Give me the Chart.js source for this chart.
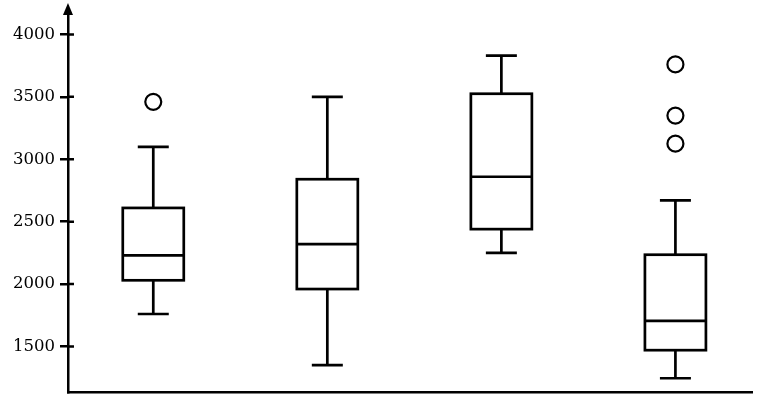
<!DOCTYPE html>
<html>
<head>
<meta charset="utf-8">
<script src="https://cdn.jsdelivr.net/npm/chart.js@4/dist/chart.umd.min.js"></script>
<style>
  body { margin: 0; background: #fff; }
  canvas { display: block; }
</style>
</head>
<body>
<canvas id="box-chart" width="768" height="404"></canvas>
<script>
// box plot values, one entry per group (left to right)
const positions = [1, 2, 3, 4];
const whiskerLow = [1760, 1350, 2250, 1245];
const q1 = [2030, 1960, 2440, 1470];
const median = [2230, 2320, 2860, 1705];
const q3 = [2610, 2840, 3525, 2235];
const whiskerHigh = [3100, 3500, 3830, 2670];
const outliers = [[3460], [], [], [3760, 3350, 3125]];
const yTicks = [1500, 2000, 2500, 3000, 3500, 4000];

const boxChart = document.getElementById("box-chart");

// outliers as scatter points
const outlierPoints = [];
outliers.forEach((list, i) => {
  list.forEach((v) => outlierPoints.push({ x: positions[i], y: v }));
});

// draws boxes, whiskers, inner tick halves and the axis arrow
const boxPlotPlugin = {
  id: "boxPlot",
  afterDatasetsDraw(chart) {
    const ctx = chart.ctx;
    const xs = chart.scales.x;
    const ys = chart.scales.y;
    const boxW = 61;
    const capW = 31;
    ctx.save();
    ctx.strokeStyle = "#000";
    ctx.lineWidth = 2.7;
    ctx.lineCap = "butt";
    for (let i = 0; i < positions.length; i++) {
      const cx = xs.getPixelForValue(positions[i]);
      const yLow = ys.getPixelForValue(whiskerLow[i]);
      const yQ1 = ys.getPixelForValue(q1[i]);
      const yMed = ys.getPixelForValue(median[i]);
      const yQ3 = ys.getPixelForValue(q3[i]);
      const yHigh = ys.getPixelForValue(whiskerHigh[i]);

      ctx.beginPath();
      // whiskers
      ctx.moveTo(cx, yQ1);
      ctx.lineTo(cx, yLow);
      ctx.moveTo(cx - capW / 2, yLow);
      ctx.lineTo(cx + capW / 2, yLow);
      ctx.moveTo(cx, yQ3);
      ctx.lineTo(cx, yHigh);
      ctx.moveTo(cx - capW / 2, yHigh);
      ctx.lineTo(cx + capW / 2, yHigh);
      // median
      ctx.moveTo(cx - boxW / 2, yMed);
      ctx.lineTo(cx + boxW / 2, yMed);
      ctx.stroke();
      // box
      ctx.strokeRect(cx - boxW / 2, yQ3, boxW, yQ1 - yQ3);
    }

    // tick marks cross the axis, add the inner half
    const ax = chart.chartArea.left;
    ctx.lineWidth = 2.5;
    ctx.beginPath();
    yTicks.forEach((v) => {
      const y = ys.getPixelForValue(v);
      ctx.moveTo(ax, y);
      ctx.lineTo(ax + 6, y);
    });
    // axis goes up to an arrow head
    const top = chart.chartArea.top;
    ctx.moveTo(ax, top + 1);
    ctx.lineTo(ax, 10);
    ctx.stroke();
    ctx.fillStyle = "#000";
    ctx.beginPath();
    ctx.moveTo(ax, 3);
    ctx.lineTo(ax - 5, 15);
    ctx.lineTo(ax + 5, 15);
    ctx.closePath();
    ctx.fill();
    ctx.restore();
  },
};

new Chart(boxChart, {
  type: "scatter",
  data: {
    datasets: [
      {
        label: "Outliers",
        data: outlierPoints,
        pointRadius: 8,
        pointHoverRadius: 8,
        pointBackgroundColor: "#fff",
        pointBorderColor: "#000",
        pointBorderWidth: 2.2,
      },
    ],
  },
  options: {
    responsive: false,
    animation: false,
    layout: { padding: { left: 8, right: 16, top: 0, bottom: 0 } },
    plugins: {
      legend: { display: false },
      tooltip: { enabled: false },
    },
    scales: {
      x: {
        type: "linear",
        min: 0.51,
        max: 4.44,
        ticks: { display: false },
        grid: { display: false, drawTicks: false },
        border: { display: true, color: "#000", width: 2.5 },
      },
      y: {
        min: 1135,
        max: 4180,
        afterBuildTicks: (scale) => {
          scale.ticks = yTicks.map((v) => ({ value: v }));
        },
        ticks: {
          color: "#000",
          padding: 5,
          font: { family: "DejaVu Serif", size: 16.5, lineHeight: 0.85 },
          callback: (value) => String(value),
        },
        grid: {
          drawOnChartArea: false,
          drawTicks: true,
          tickLength: 8,
          color: "#000",
          lineWidth: 2.5,
        },
        border: { display: true, color: "#000", width: 2.5 },
      },
    },
  },
  plugins: [boxPlotPlugin],
});
</script>
</body>
</html>
